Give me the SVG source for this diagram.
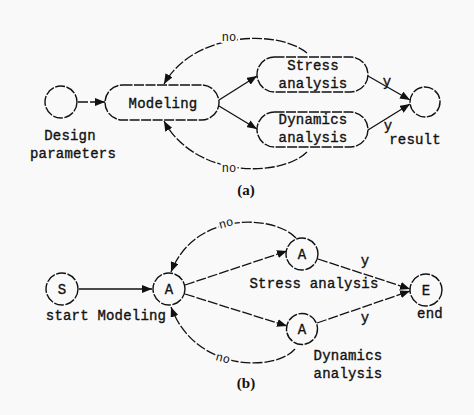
<svg xmlns="http://www.w3.org/2000/svg" width="474" height="415" viewBox="0 0 474 415">
<style>
.bg{fill:#f9f9f9}
.nd{fill:none;stroke:#111;stroke-width:1.4;stroke-dasharray:10 1.5}
.ln{fill:none;stroke:#111;stroke-width:1.3}
.dl{fill:none;stroke:#111;stroke-width:1.3;stroke-dasharray:10 2}
.t{font-family:"Liberation Mono",monospace;font-size:14px;letter-spacing:0.2px;fill:#111;stroke:#111;stroke-width:0.35;text-anchor:middle}
.s{font-family:"Liberation Mono",monospace;font-size:12px;fill:#111;text-anchor:middle;stroke:#f9f9f9;stroke-width:4;paint-order:stroke}
.cap{font-family:"Liberation Serif",serif;font-size:15px;font-weight:bold;fill:#111;text-anchor:middle}
</style>
<defs>
<marker id="ah" viewBox="0 0 10 8" refX="10" refY="4" markerWidth="10" markerHeight="8" markerUnits="userSpaceOnUse" orient="auto">
<path d="M0,0 L10,4 L0,8 z" fill="#111"/>
</marker>
</defs>
<rect class="bg" x="0" y="0" width="474" height="415"/>

<g id="connectors">
<!-- (a) -->
<path class="dl" d="M78,102 L105,102" marker-end="url(#ah)"/>
<path class="ln" d="M219,100 L257,76" marker-end="url(#ah)"/>
<path class="ln" d="M219,106 L257,129" marker-end="url(#ah)"/>
<path class="ln" d="M368,76 L410,100" marker-end="url(#ah)"/>
<path class="ln" d="M368,130 L410,104" marker-end="url(#ah)"/>
<path class="dl" d="M307,53 C280,30 195,30 164,84" marker-end="url(#ah)"/>
<path class="dl" d="M307,152 C280,178 195,178 164,121" marker-end="url(#ah)"/>
<!-- (b) -->
<path class="ln" d="M79,289 L152,289" marker-end="url(#ah)"/>
<path class="dl" d="M185,285 L287,251" marker-end="url(#ah)"/>
<path class="dl" d="M185,294 L287,326" marker-end="url(#ah)"/>
<path class="dl" d="M318,259 L410,289" marker-end="url(#ah)"/>
<path class="dl" d="M317,323 L410,291" marker-end="url(#ah)"/>
<path class="dl" d="M296,238 C275,215 195,210 171,272" marker-end="url(#ah)"/>
<path class="dl" d="M295,349 C275,372 195,372 171,307" marker-end="url(#ah)"/>
<text class="s" x="229" y="41">no</text>
<text class="s" x="229" y="172">no</text>
<text class="s" x="226" y="227" transform="rotate(-15 226 223)">no</text>
<text class="s" x="223" y="362" transform="rotate(15 223 358)">no</text>
<text class="t" x="387" y="86">y</text>
<text class="t" x="388" y="130">y</text>
<text class="t" x="365" y="265">y</text>
<text class="t" x="365" y="322">y</text>
</g>

<g id="design">
<circle class="nd" cx="61" cy="102" r="16"/>
<text class="t" x="70" y="140">Design</text>
<text class="t" x="73" y="158">parameters</text>
</g>
<g id="modeling">
<rect class="nd" x="105" y="85" width="114" height="35" rx="17.5"/>
<text class="t" x="163" y="108">Modeling</text>
</g>
<g id="stress">
<rect class="nd" x="257" y="57" width="111" height="35" rx="17.5"/>
<text class="t" x="313" y="70">Stress</text>
<text class="t" x="313" y="88">analysis</text>
</g>
<g id="dynamics">
<rect class="nd" x="257" y="112" width="111" height="35" rx="17.5"/>
<text class="t" x="313" y="124">Dynamics</text>
<text class="t" x="313" y="142">analysis</text>
</g>
<g id="result">
<circle class="nd" cx="425" cy="102" r="15"/>
<text class="t" x="415" y="144">result</text>
</g>
<text class="cap" x="246" y="195">(a)</text>

<g id="S">
<circle class="nd" cx="62" cy="289" r="16"/>
<text class="t" x="62" y="294">S</text>
</g>
<g id="A1">
<circle class="nd" cx="169" cy="289" r="16"/>
<text class="t" x="169" y="294">A</text>
<text class="t" x="106" y="320">start Modeling</text>
</g>
<g id="A2">
<circle class="nd" cx="302" cy="254" r="16"/>
<text class="t" x="302" y="259">A</text>
<text class="t" x="314" y="288">Stress analysis</text>
</g>
<g id="A3">
<circle class="nd" cx="302" cy="329" r="15.5"/>
<text class="t" x="302" y="334">A</text>
<text class="t" x="348" y="360">Dynamics</text>
<text class="t" x="348" y="378">analysis</text>
</g>
<g id="E">
<circle class="nd" cx="426" cy="290" r="16"/>
<text class="t" x="426" y="295">E</text>
<text class="t" x="430" y="318">end</text>
</g>
<text class="cap" x="246" y="388">(b)</text>
</svg>
